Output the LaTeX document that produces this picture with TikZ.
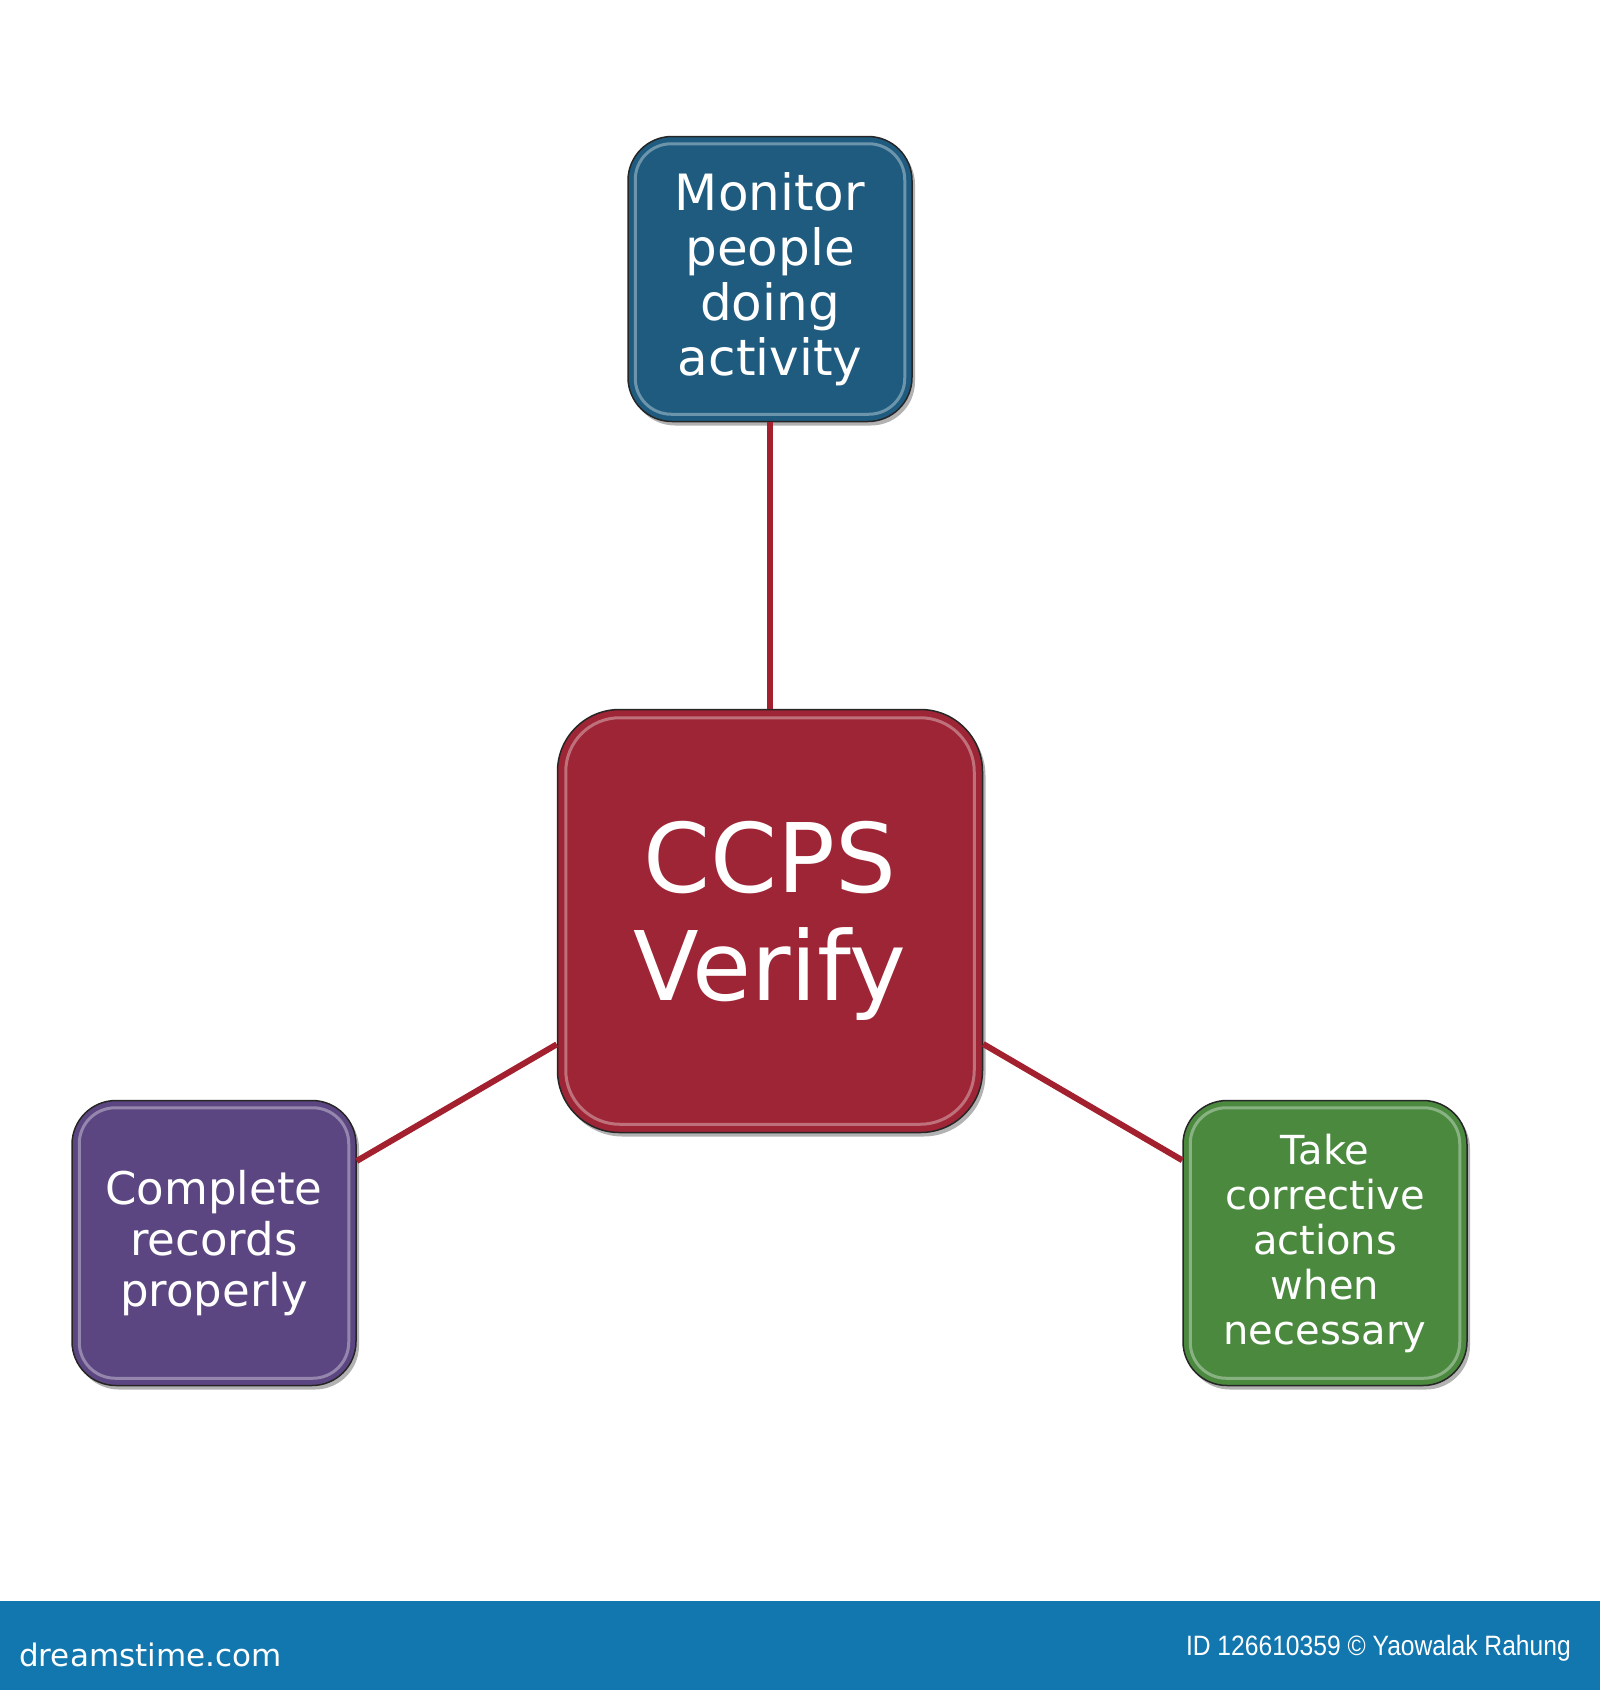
\documentclass[tikz,border=0pt]{standalone}
\usepackage{fontspec}
\setmainfont{DejaVu Sans}
\newfontfamily\idfont{Liberation Sans}
\usetikzlibrary{shadows}
\definecolor{boxblue}{HTML}{1E5B7F}
\definecolor{boxred}{HTML}{9E2535}
\definecolor{boxpurple}{HTML}{5C4681}
\definecolor{boxgreen}{HTML}{4B893F}
\definecolor{linkred}{HTML}{A3202F}
\definecolor{barblue}{HTML}{1277AE}
\tikzset{
  box/.style={draw=black!85, line width=1.5pt, rounded corners=44pt, text=white,
    align=center, inner sep=0pt, minimum width=284pt, minimum height=285pt,
    drop shadow={shadow xshift=3pt, shadow yshift=-4pt, opacity=0.3, fill=black}},
  gloss/.style={draw=white, draw opacity=0.35, line width=3pt, rounded corners=36pt},
  link/.style={draw=linkred, line width=6pt},
}
\begin{document}
\begin{tikzpicture}[x=1pt,y=-1pt]
\useasboundingbox (0,0) rectangle (1600,1690);
\fill[white] (0,0) rectangle (1600,1690);

% nodes
\node[box, fill=boxblue, font=\fontsize{50pt}{55pt}\selectfont] (monitor) at (770,279)
  {Monitor\\people\\doing\\activity};
\node[box, fill=boxred, minimum width=425pt, minimum height=423pt, rounded corners=62pt,
  font=\fontsize{96pt}{108pt}\selectfont] (ccps) at (770,921) {CCPS\\Verify};
\node[box, fill=boxpurple, font=\fontsize{45pt}{51pt}\selectfont] (records) at (214,1243)
  {Complete\\records\\properly};
\node[box, fill=boxgreen, font=\fontsize{40pt}{45pt}\selectfont] (actions) at (1325,1243)
  {Take\\corrective\\actions\\when\\necessary};

% gloss highlights
\foreach \n in {monitor,records,actions}{
  \draw[gloss] ([shift={(8,8)}]\n.north west) rectangle ([shift={(-8,-8)}]\n.south east);
}
\draw[gloss, rounded corners=54pt] ([shift={(9,9)}]ccps.north west) rectangle ([shift={(-9,-9)}]ccps.south east);

% connectors
\draw[link] (monitor) -- (ccps);
\draw[link] (ccps) -- (records);
\draw[link] (ccps) -- (actions);

% bottom bar
\node[fill=barblue, inner sep=0pt, minimum width=1600pt, minimum height=89pt, anchor=north west] (bar) at (0,1601) {};
\node[anchor=base west, text=white, inner sep=0pt, font=\fontsize{31pt}{31pt}\selectfont] (logo) at (19,1666) {dreamstime.com};
\node[anchor=base east, text=white, inner sep=0pt, xscale=0.88, font=\idfont\fontsize{28pt}{28pt}\selectfont] (credit) at (1571,1655) {ID 126610359 © Yaowalak Rahung};
\end{tikzpicture}
\end{document}
